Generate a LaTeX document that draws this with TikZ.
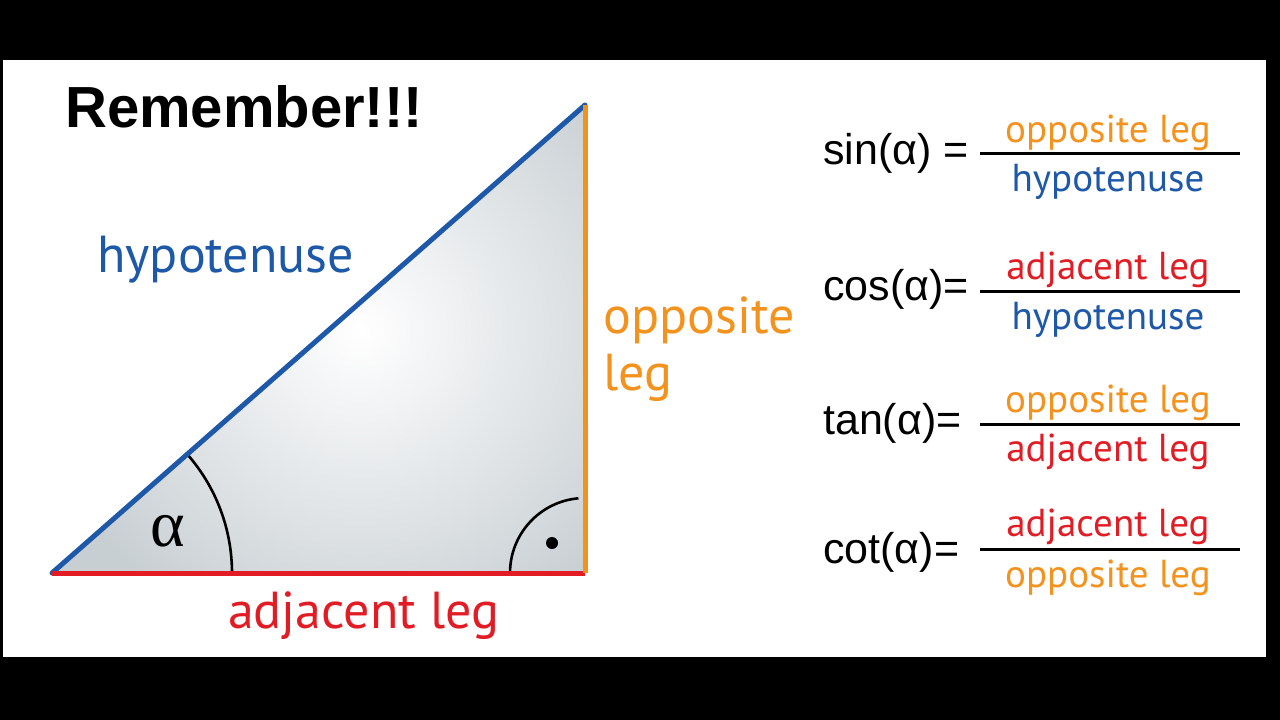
\documentclass[tikz,border=0pt]{standalone}
\usepackage{fontspec}
\setmainfont{PT Sans}
\newfontfamily\headfont{Liberation Sans}
\newfontfamily\anglefont{Liberation Serif}
\usetikzlibrary{positioning}
\definecolor{hypblue}{RGB}{30,88,168}
\definecolor{adjred}{RGB}{226,28,36}
\definecolor{oppor}{RGB}{244,146,30}
\definecolor{trigray}{RGB}{200,207,211}
\tikzset{
	lbl/.style={font=\fontsize{52}{52}\selectfont, inner sep=0pt, anchor=base west},
	frac/.style={font=\fontsize{39}{39}\selectfont, inner sep=0pt, anchor=base},
	fn/.style={font=\headfont\fontsize{43}{43}\selectfont, inner sep=0pt, anchor=west},
	bar/.style={line width=3pt}
}

\begin{document}
\begin{tikzpicture}[x=1pt,y=-1pt]
		\useasboundingbox (0,0) rectangle (1280,720);
		\fill[black] (0,0) rectangle (1280,720);
		\fill[white] (3,60) rectangle (1266,657);
		\coordinate (A) at (52,573);
		\coordinate (B) at (585,573);
		\coordinate (C) at (585,105);
		% triangle
		\fill[trigray] (A) -- (B) -- (C) -- cycle;
		\begin{scope}
			\clip (A) -- (B) -- (C) -- cycle;
			\shade[inner color=white, outer color=trigray] (360,330) circle (330);
		\end{scope}
		\draw[line width=2.6pt] (A) ++(180,0) arc[start angle=0, end angle=-41.3, radius=180];
		\draw[line width=2.6pt] (B) ++(-75,0) arc[start angle=180, end angle=265, radius=75];
		\fill (552,543) circle (6);
		\draw[hypblue, line width=5pt, line cap=round] (A) -- (C);
		\draw[adjred, line width=5pt] (A) -- (B);
		\draw[oppor, line width=5pt] (C) -- (B);
		\node[font=\anglefont\fontsize{66}{66}\selectfont, inner sep=0pt] (alpha) at (168,531) {α};
		% labels
		\node[font=\headfont\bfseries\fontsize{58}{58}\selectfont, inner sep=0pt, anchor=base west] (rem) at (65,127) {Remember!!!};
		\node[lbl, hypblue] (hyp) at (97,272) {hypotenuse};
		\node[lbl, oppor] (opp) at (603,333) {opposite};
		\node[lbl, oppor] (leg) at (603,390) {leg};
		\node[lbl, adjred] (adj) at (228,628) {adjacent leg};
		% sin
		\node[fn] (sinfn) at (823,153) {sin(α) =};
		\coordinate (s1) at (980,153);
		\coordinate (s2) at (1240,153);
		\draw[bar] (s1) -- (s2);
		\node[frac, oppor] (sinnum) at (1108,142) {opposite leg};
		\node[frac, hypblue] (sinden) at (1108,191) {hypotenuse};
		% cos
		\node[fn] (cosfn) at (823,289) {cos(α)=};
		\coordinate (c1) at (980,291);
		\coordinate (c2) at (1240,291);
		\draw[bar] (c1) -- (c2);
		\node[frac, adjred] (cosnum) at (1108,279) {adjacent leg};
		\node[frac, hypblue] (cosden) at (1108,329) {hypotenuse};
		% tan
		\node[fn] (tanfn) at (823,423) {tan(α)=};
		\coordinate (t1) at (980,424);
		\coordinate (t2) at (1240,424);
		\draw[bar] (t1) -- (t2);
		\node[frac, oppor] (tannum) at (1108,412) {opposite leg};
		\node[frac, adjred] (tanden) at (1108,461) {adjacent leg};
		% cot
		\node[fn] (cotfn) at (823,552) {cot(α)=};
		\coordinate (k1) at (980,549);
		\coordinate (k2) at (1240,549);
		\draw[bar] (k1) -- (k2);
		\node[frac, adjred] (cotnum) at (1108,536) {adjacent leg};
		\node[frac, oppor] (cotden) at (1108,587) {opposite leg};
	\end{tikzpicture}
\end{document}
